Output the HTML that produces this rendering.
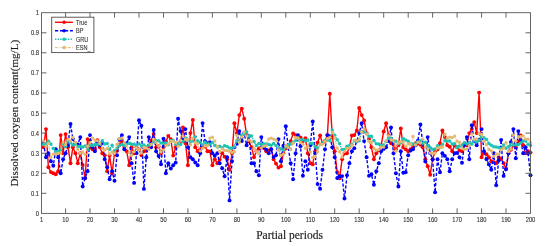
<!DOCTYPE html>
<html><head><meta charset="utf-8"><title>Dissolved oxygen content</title>
<style>html,body{margin:0;padding:0;background:#fff}body{width:550px;height:246px;position:relative;overflow:hidden}</style>
</head><body>
<svg width="550" height="246" viewBox="0 0 550 246" style="position:absolute;left:0;top:0">
<defs><filter id="soft" x="-2%" y="-10%" width="104%" height="120%"><feGaussianBlur stdDeviation="0.35"/></filter></defs>
<rect x="0" y="0" width="550" height="246" fill="#fff"/>
<g fill="none" stroke-linejoin="round" filter="url(#soft)">
<polyline points="43.5,147.2 46.0,129.1 48.4,167.2 50.9,172.1 53.3,173.3 55.8,174.3 58.2,171.3 60.7,135.1 63.1,153.2 65.6,134.1 68.0,147.2 70.5,163.2 72.9,147.2 75.4,153.2 77.8,163.2 80.3,153.2 82.7,165.0 85.1,178.3 87.6,139.1 90.0,147.2 92.5,149.2 94.9,149.2 97.4,140.3 99.8,147.2 102.3,153.2 104.7,155.2 107.2,171.3 109.6,155.2 112.1,173.3 114.5,153.2 117.0,150.7 119.4,145.2 121.9,141.1 124.3,147.0 126.7,151.2 129.2,165.2 131.6,147.2 134.1,153.2 136.5,147.2 139.0,149.4 141.4,155.2 143.9,151.2 146.3,150.7 148.8,147.2 151.2,140.4 153.7,134.1 156.1,147.2 158.6,146.2 161.0,153.2 163.5,147.2 165.9,141.5 168.3,135.9 170.8,139.1 173.2,155.6 175.7,147.2 178.1,143.6 180.6,141.1 183.0,127.5 185.5,143.2 187.9,165.2 190.4,133.1 192.8,119.9 195.3,147.2 197.7,151.2 200.2,149.3 202.6,147.2 205.0,146.4 207.5,151.2 209.9,151.4 212.4,165.2 214.8,159.2 217.3,163.2 219.7,159.6 222.2,153.2 224.6,156.7 227.1,159.2 229.5,169.8 232.0,153.2 234.4,123.3 236.9,133.1 239.3,115.1 241.8,108.6 244.2,118.7 246.6,135.1 249.1,141.5 251.5,147.2 254.0,157.2 256.4,151.2 258.9,148.5 261.3,147.2 263.8,148.1 266.2,151.2 268.7,150.4 271.1,149.2 273.6,159.2 276.0,163.6 278.5,167.6 280.9,166.2 283.4,153.2 285.8,148.4 288.2,147.2 290.7,141.1 293.1,133.5 295.6,135.1 298.0,138.1 300.5,137.5 302.9,141.1 305.4,138.1 307.8,153.2 310.3,163.2 312.7,164.2 315.2,151.2 317.6,142.6 320.1,135.5 322.5,143.2 325.0,141.1 327.4,135.1 329.8,93.8 332.3,137.1 334.7,151.2 337.2,172.3 339.6,178.3 342.1,159.2 344.5,153.5 347.0,153.2 349.4,147.2 351.9,135.5 354.3,135.1 356.8,130.5 359.2,108.0 361.7,115.1 364.1,120.5 366.6,133.1 369.0,138.9 371.4,147.2 373.9,159.2 376.3,153.2 378.8,150.4 381.2,145.2 383.7,131.5 386.1,123.3 388.6,135.1 391.0,143.2 393.5,144.9 395.9,149.2 398.4,145.2 400.8,128.5 403.3,147.2 405.7,149.2 408.2,151.2 410.6,149.3 413.0,147.2 415.5,143.1 417.9,143.2 420.4,144.8 422.8,147.2 425.3,159.2 427.7,166.3 430.2,174.7 432.6,159.2 435.1,151.2 437.5,149.3 440.0,143.2 442.4,130.5 444.9,137.1 447.3,145.2 449.7,146.7 452.2,151.2 454.6,145.4 457.1,147.2 459.5,150.5 462.0,151.2 464.4,143.8 466.9,145.2 469.3,133.1 471.8,128.9 474.2,122.1 476.7,133.1 479.1,92.6 481.6,157.2 484.0,153.2 486.5,154.2 488.9,157.2 491.3,161.2 493.8,162.1 496.2,163.2 498.7,157.2 501.1,159.0 503.6,163.2 506.0,168.6 508.5,153.2 510.9,149.7 513.4,145.2 515.8,147.2 518.3,142.3 520.7,135.5 523.2,145.2 525.6,153.2 528.1,151.2 530.5,152.6" stroke="#ff0000" stroke-width="1.4"/>
<g fill="#ff0000" stroke="none"><circle cx="43.5" cy="147.2" r="1.95"/><circle cx="46.0" cy="129.1" r="1.95"/><circle cx="48.4" cy="167.2" r="1.95"/><circle cx="50.9" cy="172.1" r="1.95"/><circle cx="53.3" cy="173.3" r="1.95"/><circle cx="55.8" cy="174.3" r="1.95"/><circle cx="58.2" cy="171.3" r="1.95"/><circle cx="60.7" cy="135.1" r="1.95"/><circle cx="63.1" cy="153.2" r="1.95"/><circle cx="65.6" cy="134.1" r="1.95"/><circle cx="68.0" cy="147.2" r="1.95"/><circle cx="70.5" cy="163.2" r="1.95"/><circle cx="72.9" cy="147.2" r="1.95"/><circle cx="75.4" cy="153.2" r="1.95"/><circle cx="77.8" cy="163.2" r="1.95"/><circle cx="80.3" cy="153.2" r="1.95"/><circle cx="82.7" cy="165.0" r="1.95"/><circle cx="85.1" cy="178.3" r="1.95"/><circle cx="87.6" cy="139.1" r="1.95"/><circle cx="90.0" cy="147.2" r="1.95"/><circle cx="92.5" cy="149.2" r="1.95"/><circle cx="94.9" cy="149.2" r="1.95"/><circle cx="97.4" cy="140.3" r="1.95"/><circle cx="99.8" cy="147.2" r="1.95"/><circle cx="102.3" cy="153.2" r="1.95"/><circle cx="104.7" cy="155.2" r="1.95"/><circle cx="107.2" cy="171.3" r="1.95"/><circle cx="109.6" cy="155.2" r="1.95"/><circle cx="112.1" cy="173.3" r="1.95"/><circle cx="114.5" cy="153.2" r="1.95"/><circle cx="117.0" cy="150.7" r="1.95"/><circle cx="119.4" cy="145.2" r="1.95"/><circle cx="121.9" cy="141.1" r="1.95"/><circle cx="124.3" cy="147.0" r="1.95"/><circle cx="126.7" cy="151.2" r="1.95"/><circle cx="129.2" cy="165.2" r="1.95"/><circle cx="131.6" cy="147.2" r="1.95"/><circle cx="134.1" cy="153.2" r="1.95"/><circle cx="136.5" cy="147.2" r="1.95"/><circle cx="139.0" cy="149.4" r="1.95"/><circle cx="141.4" cy="155.2" r="1.95"/><circle cx="143.9" cy="151.2" r="1.95"/><circle cx="146.3" cy="150.7" r="1.95"/><circle cx="148.8" cy="147.2" r="1.95"/><circle cx="151.2" cy="140.4" r="1.95"/><circle cx="153.7" cy="134.1" r="1.95"/><circle cx="156.1" cy="147.2" r="1.95"/><circle cx="158.6" cy="146.2" r="1.95"/><circle cx="161.0" cy="153.2" r="1.95"/><circle cx="163.5" cy="147.2" r="1.95"/><circle cx="165.9" cy="141.5" r="1.95"/><circle cx="168.3" cy="135.9" r="1.95"/><circle cx="170.8" cy="139.1" r="1.95"/><circle cx="173.2" cy="155.6" r="1.95"/><circle cx="175.7" cy="147.2" r="1.95"/><circle cx="178.1" cy="143.6" r="1.95"/><circle cx="180.6" cy="141.1" r="1.95"/><circle cx="183.0" cy="127.5" r="1.95"/><circle cx="185.5" cy="143.2" r="1.95"/><circle cx="187.9" cy="165.2" r="1.95"/><circle cx="190.4" cy="133.1" r="1.95"/><circle cx="192.8" cy="119.9" r="1.95"/><circle cx="195.3" cy="147.2" r="1.95"/><circle cx="197.7" cy="151.2" r="1.95"/><circle cx="200.2" cy="149.3" r="1.95"/><circle cx="202.6" cy="147.2" r="1.95"/><circle cx="205.0" cy="146.4" r="1.95"/><circle cx="207.5" cy="151.2" r="1.95"/><circle cx="209.9" cy="151.4" r="1.95"/><circle cx="212.4" cy="165.2" r="1.95"/><circle cx="214.8" cy="159.2" r="1.95"/><circle cx="217.3" cy="163.2" r="1.95"/><circle cx="219.7" cy="159.6" r="1.95"/><circle cx="222.2" cy="153.2" r="1.95"/><circle cx="224.6" cy="156.7" r="1.95"/><circle cx="227.1" cy="159.2" r="1.95"/><circle cx="229.5" cy="169.8" r="1.95"/><circle cx="232.0" cy="153.2" r="1.95"/><circle cx="234.4" cy="123.3" r="1.95"/><circle cx="236.9" cy="133.1" r="1.95"/><circle cx="239.3" cy="115.1" r="1.95"/><circle cx="241.8" cy="108.6" r="1.95"/><circle cx="244.2" cy="118.7" r="1.95"/><circle cx="246.6" cy="135.1" r="1.95"/><circle cx="249.1" cy="141.5" r="1.95"/><circle cx="251.5" cy="147.2" r="1.95"/><circle cx="254.0" cy="157.2" r="1.95"/><circle cx="256.4" cy="151.2" r="1.95"/><circle cx="258.9" cy="148.5" r="1.95"/><circle cx="261.3" cy="147.2" r="1.95"/><circle cx="263.8" cy="148.1" r="1.95"/><circle cx="266.2" cy="151.2" r="1.95"/><circle cx="268.7" cy="150.4" r="1.95"/><circle cx="271.1" cy="149.2" r="1.95"/><circle cx="273.6" cy="159.2" r="1.95"/><circle cx="276.0" cy="163.6" r="1.95"/><circle cx="278.5" cy="167.6" r="1.95"/><circle cx="280.9" cy="166.2" r="1.95"/><circle cx="283.4" cy="153.2" r="1.95"/><circle cx="285.8" cy="148.4" r="1.95"/><circle cx="288.2" cy="147.2" r="1.95"/><circle cx="290.7" cy="141.1" r="1.95"/><circle cx="293.1" cy="133.5" r="1.95"/><circle cx="295.6" cy="135.1" r="1.95"/><circle cx="298.0" cy="138.1" r="1.95"/><circle cx="300.5" cy="137.5" r="1.95"/><circle cx="302.9" cy="141.1" r="1.95"/><circle cx="305.4" cy="138.1" r="1.95"/><circle cx="307.8" cy="153.2" r="1.95"/><circle cx="310.3" cy="163.2" r="1.95"/><circle cx="312.7" cy="164.2" r="1.95"/><circle cx="315.2" cy="151.2" r="1.95"/><circle cx="317.6" cy="142.6" r="1.95"/><circle cx="320.1" cy="135.5" r="1.95"/><circle cx="322.5" cy="143.2" r="1.95"/><circle cx="325.0" cy="141.1" r="1.95"/><circle cx="327.4" cy="135.1" r="1.95"/><circle cx="329.8" cy="93.8" r="1.95"/><circle cx="332.3" cy="137.1" r="1.95"/><circle cx="334.7" cy="151.2" r="1.95"/><circle cx="337.2" cy="172.3" r="1.95"/><circle cx="339.6" cy="178.3" r="1.95"/><circle cx="342.1" cy="159.2" r="1.95"/><circle cx="344.5" cy="153.5" r="1.95"/><circle cx="347.0" cy="153.2" r="1.95"/><circle cx="349.4" cy="147.2" r="1.95"/><circle cx="351.9" cy="135.5" r="1.95"/><circle cx="354.3" cy="135.1" r="1.95"/><circle cx="356.8" cy="130.5" r="1.95"/><circle cx="359.2" cy="108.0" r="1.95"/><circle cx="361.7" cy="115.1" r="1.95"/><circle cx="364.1" cy="120.5" r="1.95"/><circle cx="366.6" cy="133.1" r="1.95"/><circle cx="369.0" cy="138.9" r="1.95"/><circle cx="371.4" cy="147.2" r="1.95"/><circle cx="373.9" cy="159.2" r="1.95"/><circle cx="376.3" cy="153.2" r="1.95"/><circle cx="378.8" cy="150.4" r="1.95"/><circle cx="381.2" cy="145.2" r="1.95"/><circle cx="383.7" cy="131.5" r="1.95"/><circle cx="386.1" cy="123.3" r="1.95"/><circle cx="388.6" cy="135.1" r="1.95"/><circle cx="391.0" cy="143.2" r="1.95"/><circle cx="393.5" cy="144.9" r="1.95"/><circle cx="395.9" cy="149.2" r="1.95"/><circle cx="398.4" cy="145.2" r="1.95"/><circle cx="400.8" cy="128.5" r="1.95"/><circle cx="403.3" cy="147.2" r="1.95"/><circle cx="405.7" cy="149.2" r="1.95"/><circle cx="408.2" cy="151.2" r="1.95"/><circle cx="410.6" cy="149.3" r="1.95"/><circle cx="413.0" cy="147.2" r="1.95"/><circle cx="415.5" cy="143.1" r="1.95"/><circle cx="417.9" cy="143.2" r="1.95"/><circle cx="420.4" cy="144.8" r="1.95"/><circle cx="422.8" cy="147.2" r="1.95"/><circle cx="425.3" cy="159.2" r="1.95"/><circle cx="427.7" cy="166.3" r="1.95"/><circle cx="430.2" cy="174.7" r="1.95"/><circle cx="432.6" cy="159.2" r="1.95"/><circle cx="435.1" cy="151.2" r="1.95"/><circle cx="437.5" cy="149.3" r="1.95"/><circle cx="440.0" cy="143.2" r="1.95"/><circle cx="442.4" cy="130.5" r="1.95"/><circle cx="444.9" cy="137.1" r="1.95"/><circle cx="447.3" cy="145.2" r="1.95"/><circle cx="449.7" cy="146.7" r="1.95"/><circle cx="452.2" cy="151.2" r="1.95"/><circle cx="454.6" cy="145.4" r="1.95"/><circle cx="457.1" cy="147.2" r="1.95"/><circle cx="459.5" cy="150.5" r="1.95"/><circle cx="462.0" cy="151.2" r="1.95"/><circle cx="464.4" cy="143.8" r="1.95"/><circle cx="466.9" cy="145.2" r="1.95"/><circle cx="469.3" cy="133.1" r="1.95"/><circle cx="471.8" cy="128.9" r="1.95"/><circle cx="474.2" cy="122.1" r="1.95"/><circle cx="476.7" cy="133.1" r="1.95"/><circle cx="479.1" cy="92.6" r="1.95"/><circle cx="481.6" cy="157.2" r="1.95"/><circle cx="484.0" cy="153.2" r="1.95"/><circle cx="486.5" cy="154.2" r="1.95"/><circle cx="488.9" cy="157.2" r="1.95"/><circle cx="491.3" cy="161.2" r="1.95"/><circle cx="493.8" cy="162.1" r="1.95"/><circle cx="496.2" cy="163.2" r="1.95"/><circle cx="498.7" cy="157.2" r="1.95"/><circle cx="501.1" cy="159.0" r="1.95"/><circle cx="503.6" cy="163.2" r="1.95"/><circle cx="506.0" cy="168.6" r="1.95"/><circle cx="508.5" cy="153.2" r="1.95"/><circle cx="510.9" cy="149.7" r="1.95"/><circle cx="513.4" cy="145.2" r="1.95"/><circle cx="515.8" cy="147.2" r="1.95"/><circle cx="518.3" cy="142.3" r="1.95"/><circle cx="520.7" cy="135.5" r="1.95"/><circle cx="523.2" cy="145.2" r="1.95"/><circle cx="525.6" cy="153.2" r="1.95"/><circle cx="528.1" cy="151.2" r="1.95"/><circle cx="530.5" cy="152.6" r="1.95"/></g>
<polyline points="43.5,143.2 46.0,157.2 48.4,153.2 50.9,161.2 53.3,165.8 55.8,149.2 58.2,157.2 60.7,173.3 63.1,159.2 65.6,153.2 68.0,145.2 70.5,123.9 72.9,139.1 75.4,143.2 77.8,144.5 80.3,137.1 82.7,186.5 85.1,178.1 87.6,171.3 90.0,135.1 92.5,147.2 94.9,151.2 97.4,142.2 99.8,145.2 102.3,142.6 104.7,159.2 107.2,167.2 109.6,179.3 112.1,171.3 114.5,180.7 117.0,155.2 119.4,139.5 121.9,135.1 124.3,149.2 126.7,143.3 129.2,137.1 131.6,163.2 134.1,182.9 136.5,153.2 139.0,120.3 141.4,125.7 143.9,188.9 146.3,157.2 148.8,137.1 151.2,147.2 153.7,129.9 156.1,151.2 158.6,156.0 161.0,164.2 163.5,138.7 165.9,173.3 168.3,163.2 170.8,168.6 173.2,165.2 175.7,162.6 178.1,118.7 180.6,131.1 183.0,141.1 185.5,129.1 187.9,147.2 190.4,157.2 192.8,159.2 195.3,162.5 197.7,165.2 200.2,153.2 202.6,123.1 205.0,141.1 207.5,143.2 209.9,142.2 212.4,153.2 214.8,155.7 217.3,153.2 219.7,163.2 222.2,168.2 224.6,176.3 227.1,157.2 229.5,200.4 232.0,161.2 234.4,147.2 236.9,143.8 239.3,131.1 241.8,141.1 244.2,133.1 246.6,145.2 249.1,136.1 251.5,163.2 254.0,163.2 256.4,171.3 258.9,175.3 261.3,137.1 263.8,147.2 266.2,149.6 268.7,153.2 271.1,149.2 273.6,157.1 276.0,155.2 278.5,139.1 280.9,161.2 283.4,145.8 285.8,126.3 288.2,147.2 290.7,163.2 293.1,179.3 295.6,153.2 298.0,135.1 300.5,146.2 302.9,175.7 305.4,161.2 307.8,169.8 310.3,145.2 312.7,121.5 315.2,153.2 317.6,184.1 320.1,188.7 322.5,169.8 325.0,149.2 327.4,135.1 329.8,136.1 332.3,147.2 334.7,157.2 337.2,178.1 339.6,176.2 342.1,176.1 344.5,198.5 347.0,175.3 349.4,163.2 351.9,151.2 354.3,148.3 356.8,141.1 359.2,133.1 361.7,123.3 364.1,141.1 366.6,157.2 369.0,175.7 371.4,174.3 373.9,184.7 376.3,171.3 378.8,163.2 381.2,151.2 383.7,148.9 386.1,147.2 388.6,141.1 391.0,127.5 393.5,153.2 395.9,173.3 398.4,186.5 400.8,151.2 403.3,172.7 405.7,172.3 408.2,155.2 410.6,150.6 413.0,149.2 415.5,145.2 417.9,140.7 420.4,124.5 422.8,143.2 425.3,161.6 427.7,137.1 430.2,153.2 432.6,159.2 435.1,192.3 437.5,159.2 440.0,172.3 442.4,153.2 444.9,155.9 447.3,159.2 449.7,171.3 452.2,159.2 454.6,153.2 457.1,152.9 459.5,157.2 462.0,162.8 464.4,145.1 466.9,137.1 469.3,159.2 471.8,125.3 474.2,141.1 476.7,145.2 479.1,139.9 481.6,129.1 484.0,151.2 486.5,159.2 488.9,164.4 491.3,169.8 493.8,153.2 496.2,185.3 498.7,160.6 501.1,139.9 503.6,175.9 506.0,169.2 508.5,153.2 510.9,142.1 513.4,129.1 515.8,158.2 518.3,131.1 520.7,141.1 523.2,153.2 525.6,147.2 528.1,153.2 530.5,175.3" stroke="#0000ff" stroke-width="1.4" stroke-dasharray="3.2 1.8"/>
<g fill="#0000ff" stroke="none"><circle cx="43.5" cy="143.2" r="1.95"/><circle cx="46.0" cy="157.2" r="1.95"/><circle cx="48.4" cy="153.2" r="1.95"/><circle cx="50.9" cy="161.2" r="1.95"/><circle cx="53.3" cy="165.8" r="1.95"/><circle cx="55.8" cy="149.2" r="1.95"/><circle cx="58.2" cy="157.2" r="1.95"/><circle cx="60.7" cy="173.3" r="1.95"/><circle cx="63.1" cy="159.2" r="1.95"/><circle cx="65.6" cy="153.2" r="1.95"/><circle cx="68.0" cy="145.2" r="1.95"/><circle cx="70.5" cy="123.9" r="1.95"/><circle cx="72.9" cy="139.1" r="1.95"/><circle cx="75.4" cy="143.2" r="1.95"/><circle cx="77.8" cy="144.5" r="1.95"/><circle cx="80.3" cy="137.1" r="1.95"/><circle cx="82.7" cy="186.5" r="1.95"/><circle cx="85.1" cy="178.1" r="1.95"/><circle cx="87.6" cy="171.3" r="1.95"/><circle cx="90.0" cy="135.1" r="1.95"/><circle cx="92.5" cy="147.2" r="1.95"/><circle cx="94.9" cy="151.2" r="1.95"/><circle cx="97.4" cy="142.2" r="1.95"/><circle cx="99.8" cy="145.2" r="1.95"/><circle cx="102.3" cy="142.6" r="1.95"/><circle cx="104.7" cy="159.2" r="1.95"/><circle cx="107.2" cy="167.2" r="1.95"/><circle cx="109.6" cy="179.3" r="1.95"/><circle cx="112.1" cy="171.3" r="1.95"/><circle cx="114.5" cy="180.7" r="1.95"/><circle cx="117.0" cy="155.2" r="1.95"/><circle cx="119.4" cy="139.5" r="1.95"/><circle cx="121.9" cy="135.1" r="1.95"/><circle cx="124.3" cy="149.2" r="1.95"/><circle cx="126.7" cy="143.3" r="1.95"/><circle cx="129.2" cy="137.1" r="1.95"/><circle cx="131.6" cy="163.2" r="1.95"/><circle cx="134.1" cy="182.9" r="1.95"/><circle cx="136.5" cy="153.2" r="1.95"/><circle cx="139.0" cy="120.3" r="1.95"/><circle cx="141.4" cy="125.7" r="1.95"/><circle cx="143.9" cy="188.9" r="1.95"/><circle cx="146.3" cy="157.2" r="1.95"/><circle cx="148.8" cy="137.1" r="1.95"/><circle cx="151.2" cy="147.2" r="1.95"/><circle cx="153.7" cy="129.9" r="1.95"/><circle cx="156.1" cy="151.2" r="1.95"/><circle cx="158.6" cy="156.0" r="1.95"/><circle cx="161.0" cy="164.2" r="1.95"/><circle cx="163.5" cy="138.7" r="1.95"/><circle cx="165.9" cy="173.3" r="1.95"/><circle cx="168.3" cy="163.2" r="1.95"/><circle cx="170.8" cy="168.6" r="1.95"/><circle cx="173.2" cy="165.2" r="1.95"/><circle cx="175.7" cy="162.6" r="1.95"/><circle cx="178.1" cy="118.7" r="1.95"/><circle cx="180.6" cy="131.1" r="1.95"/><circle cx="183.0" cy="141.1" r="1.95"/><circle cx="185.5" cy="129.1" r="1.95"/><circle cx="187.9" cy="147.2" r="1.95"/><circle cx="190.4" cy="157.2" r="1.95"/><circle cx="192.8" cy="159.2" r="1.95"/><circle cx="195.3" cy="162.5" r="1.95"/><circle cx="197.7" cy="165.2" r="1.95"/><circle cx="200.2" cy="153.2" r="1.95"/><circle cx="202.6" cy="123.1" r="1.95"/><circle cx="205.0" cy="141.1" r="1.95"/><circle cx="207.5" cy="143.2" r="1.95"/><circle cx="209.9" cy="142.2" r="1.95"/><circle cx="212.4" cy="153.2" r="1.95"/><circle cx="214.8" cy="155.7" r="1.95"/><circle cx="217.3" cy="153.2" r="1.95"/><circle cx="219.7" cy="163.2" r="1.95"/><circle cx="222.2" cy="168.2" r="1.95"/><circle cx="224.6" cy="176.3" r="1.95"/><circle cx="227.1" cy="157.2" r="1.95"/><circle cx="229.5" cy="200.4" r="1.95"/><circle cx="232.0" cy="161.2" r="1.95"/><circle cx="234.4" cy="147.2" r="1.95"/><circle cx="236.9" cy="143.8" r="1.95"/><circle cx="239.3" cy="131.1" r="1.95"/><circle cx="241.8" cy="141.1" r="1.95"/><circle cx="244.2" cy="133.1" r="1.95"/><circle cx="246.6" cy="145.2" r="1.95"/><circle cx="249.1" cy="136.1" r="1.95"/><circle cx="251.5" cy="163.2" r="1.95"/><circle cx="254.0" cy="163.2" r="1.95"/><circle cx="256.4" cy="171.3" r="1.95"/><circle cx="258.9" cy="175.3" r="1.95"/><circle cx="261.3" cy="137.1" r="1.95"/><circle cx="263.8" cy="147.2" r="1.95"/><circle cx="266.2" cy="149.6" r="1.95"/><circle cx="268.7" cy="153.2" r="1.95"/><circle cx="271.1" cy="149.2" r="1.95"/><circle cx="273.6" cy="157.1" r="1.95"/><circle cx="276.0" cy="155.2" r="1.95"/><circle cx="278.5" cy="139.1" r="1.95"/><circle cx="280.9" cy="161.2" r="1.95"/><circle cx="283.4" cy="145.8" r="1.95"/><circle cx="285.8" cy="126.3" r="1.95"/><circle cx="288.2" cy="147.2" r="1.95"/><circle cx="290.7" cy="163.2" r="1.95"/><circle cx="293.1" cy="179.3" r="1.95"/><circle cx="295.6" cy="153.2" r="1.95"/><circle cx="298.0" cy="135.1" r="1.95"/><circle cx="300.5" cy="146.2" r="1.95"/><circle cx="302.9" cy="175.7" r="1.95"/><circle cx="305.4" cy="161.2" r="1.95"/><circle cx="307.8" cy="169.8" r="1.95"/><circle cx="310.3" cy="145.2" r="1.95"/><circle cx="312.7" cy="121.5" r="1.95"/><circle cx="315.2" cy="153.2" r="1.95"/><circle cx="317.6" cy="184.1" r="1.95"/><circle cx="320.1" cy="188.7" r="1.95"/><circle cx="322.5" cy="169.8" r="1.95"/><circle cx="325.0" cy="149.2" r="1.95"/><circle cx="327.4" cy="135.1" r="1.95"/><circle cx="329.8" cy="136.1" r="1.95"/><circle cx="332.3" cy="147.2" r="1.95"/><circle cx="334.7" cy="157.2" r="1.95"/><circle cx="337.2" cy="178.1" r="1.95"/><circle cx="339.6" cy="176.2" r="1.95"/><circle cx="342.1" cy="176.1" r="1.95"/><circle cx="344.5" cy="198.5" r="1.95"/><circle cx="347.0" cy="175.3" r="1.95"/><circle cx="349.4" cy="163.2" r="1.95"/><circle cx="351.9" cy="151.2" r="1.95"/><circle cx="354.3" cy="148.3" r="1.95"/><circle cx="356.8" cy="141.1" r="1.95"/><circle cx="359.2" cy="133.1" r="1.95"/><circle cx="361.7" cy="123.3" r="1.95"/><circle cx="364.1" cy="141.1" r="1.95"/><circle cx="366.6" cy="157.2" r="1.95"/><circle cx="369.0" cy="175.7" r="1.95"/><circle cx="371.4" cy="174.3" r="1.95"/><circle cx="373.9" cy="184.7" r="1.95"/><circle cx="376.3" cy="171.3" r="1.95"/><circle cx="378.8" cy="163.2" r="1.95"/><circle cx="381.2" cy="151.2" r="1.95"/><circle cx="383.7" cy="148.9" r="1.95"/><circle cx="386.1" cy="147.2" r="1.95"/><circle cx="388.6" cy="141.1" r="1.95"/><circle cx="391.0" cy="127.5" r="1.95"/><circle cx="393.5" cy="153.2" r="1.95"/><circle cx="395.9" cy="173.3" r="1.95"/><circle cx="398.4" cy="186.5" r="1.95"/><circle cx="400.8" cy="151.2" r="1.95"/><circle cx="403.3" cy="172.7" r="1.95"/><circle cx="405.7" cy="172.3" r="1.95"/><circle cx="408.2" cy="155.2" r="1.95"/><circle cx="410.6" cy="150.6" r="1.95"/><circle cx="413.0" cy="149.2" r="1.95"/><circle cx="415.5" cy="145.2" r="1.95"/><circle cx="417.9" cy="140.7" r="1.95"/><circle cx="420.4" cy="124.5" r="1.95"/><circle cx="422.8" cy="143.2" r="1.95"/><circle cx="425.3" cy="161.6" r="1.95"/><circle cx="427.7" cy="137.1" r="1.95"/><circle cx="430.2" cy="153.2" r="1.95"/><circle cx="432.6" cy="159.2" r="1.95"/><circle cx="435.1" cy="192.3" r="1.95"/><circle cx="437.5" cy="159.2" r="1.95"/><circle cx="440.0" cy="172.3" r="1.95"/><circle cx="442.4" cy="153.2" r="1.95"/><circle cx="444.9" cy="155.9" r="1.95"/><circle cx="447.3" cy="159.2" r="1.95"/><circle cx="449.7" cy="171.3" r="1.95"/><circle cx="452.2" cy="159.2" r="1.95"/><circle cx="454.6" cy="153.2" r="1.95"/><circle cx="457.1" cy="152.9" r="1.95"/><circle cx="459.5" cy="157.2" r="1.95"/><circle cx="462.0" cy="162.8" r="1.95"/><circle cx="464.4" cy="145.1" r="1.95"/><circle cx="466.9" cy="137.1" r="1.95"/><circle cx="469.3" cy="159.2" r="1.95"/><circle cx="471.8" cy="125.3" r="1.95"/><circle cx="474.2" cy="141.1" r="1.95"/><circle cx="476.7" cy="145.2" r="1.95"/><circle cx="479.1" cy="139.9" r="1.95"/><circle cx="481.6" cy="129.1" r="1.95"/><circle cx="484.0" cy="151.2" r="1.95"/><circle cx="486.5" cy="159.2" r="1.95"/><circle cx="488.9" cy="164.4" r="1.95"/><circle cx="491.3" cy="169.8" r="1.95"/><circle cx="493.8" cy="153.2" r="1.95"/><circle cx="496.2" cy="185.3" r="1.95"/><circle cx="498.7" cy="160.6" r="1.95"/><circle cx="501.1" cy="139.9" r="1.95"/><circle cx="503.6" cy="175.9" r="1.95"/><circle cx="506.0" cy="169.2" r="1.95"/><circle cx="508.5" cy="153.2" r="1.95"/><circle cx="510.9" cy="142.1" r="1.95"/><circle cx="513.4" cy="129.1" r="1.95"/><circle cx="515.8" cy="158.2" r="1.95"/><circle cx="518.3" cy="131.1" r="1.95"/><circle cx="520.7" cy="141.1" r="1.95"/><circle cx="523.2" cy="153.2" r="1.95"/><circle cx="525.6" cy="147.2" r="1.95"/><circle cx="528.1" cy="153.2" r="1.95"/><circle cx="530.5" cy="175.3" r="1.95"/></g>
<polyline points="43.5,144.4 46.0,143.5 48.4,141.2 50.9,144.1 53.3,148.4 55.8,151.4 58.2,151.3 60.7,150.0 63.1,144.3 65.6,146.4 68.0,141.0 70.5,142.8 72.9,145.1 75.4,144.3 77.8,146.4 80.3,146.4 82.7,146.9 85.1,145.9 87.6,149.4 90.0,145.2 92.5,145.6 94.9,144.5 97.4,144.4 99.8,144.0 102.3,140.8 104.7,144.0 107.2,143.5 109.6,149.3 112.1,145.3 114.5,150.7 117.0,148.2 119.4,145.6 121.9,144.5 124.3,145.5 126.7,144.5 129.2,143.3 131.6,144.3 134.1,144.2 136.5,145.7 139.0,143.7 141.4,145.9 143.9,144.9 146.3,146.8 148.8,145.1 151.2,144.6 153.7,141.8 156.1,140.8 158.6,140.8 161.0,142.9 163.5,143.3 165.9,143.1 168.3,144.7 170.8,140.8 173.2,140.5 175.7,144.3 178.1,143.4 180.6,144.5 183.0,141.4 185.5,138.2 187.9,140.1 190.4,142.0 192.8,140.9 195.3,136.7 197.7,141.0 200.2,142.4 202.6,144.7 205.0,142.3 207.5,144.3 209.9,144.2 212.4,142.6 214.8,145.6 217.3,146.9 219.7,146.3 222.2,147.7 224.6,145.8 227.1,146.6 229.5,148.0 232.0,148.2 234.4,146.2 236.9,140.8 239.3,140.3 241.8,135.3 244.2,133.7 246.6,132.1 249.1,136.2 251.5,135.9 254.0,141.6 256.4,145.6 258.9,143.5 261.3,144.6 263.8,144.0 266.2,143.9 268.7,144.4 271.1,145.2 273.6,143.6 276.0,145.4 278.5,147.9 280.9,148.7 283.4,150.0 285.8,147.0 288.2,145.0 290.7,144.0 293.1,142.3 295.6,140.6 298.0,137.8 300.5,140.0 302.9,139.7 305.4,140.8 307.8,140.1 310.3,143.2 312.7,143.5 315.2,146.8 317.6,148.0 320.1,144.5 322.5,143.0 325.0,140.8 327.4,139.9 329.8,140.6 332.3,130.0 334.7,135.3 337.2,139.7 339.6,143.7 342.1,149.5 344.5,149.6 347.0,146.2 349.4,145.8 351.9,144.3 354.3,140.8 356.8,141.0 359.2,140.7 361.7,131.7 364.1,132.0 366.6,133.4 369.0,136.2 371.4,136.3 373.9,140.5 376.3,143.7 378.8,143.9 381.2,145.6 383.7,145.1 386.1,141.4 388.6,138.3 391.0,138.2 393.5,140.9 395.9,141.3 398.4,143.5 400.8,143.0 403.3,138.7 405.7,140.0 408.2,141.3 410.6,144.0 413.0,144.1 415.5,144.6 417.9,141.9 420.4,140.8 422.8,143.3 425.3,142.3 427.7,145.6 430.2,147.5 432.6,149.3 435.1,148.9 437.5,145.8 440.0,147.3 442.4,144.6 444.9,140.4 447.3,141.0 449.7,141.0 452.2,144.1 454.6,143.7 457.1,147.6 459.5,146.1 462.0,145.0 464.4,142.7 466.9,144.0 469.3,142.8 471.8,144.1 474.2,140.8 476.7,141.8 479.1,140.2 481.6,136.5 484.0,137.7 486.5,139.6 488.9,143.5 491.3,145.2 493.8,146.7 496.2,147.1 498.7,147.6 501.1,148.3 503.6,145.0 506.0,148.3 508.5,146.6 510.9,144.4 513.4,144.9 515.8,144.7 518.3,144.4 520.7,142.8 523.2,141.1 525.6,140.9 528.1,144.3 530.5,145.5" stroke="#1fc2b4" stroke-width="1.4" stroke-dasharray="1.4 1.2"/>
<g fill="#1fc2b4" stroke="none"><circle cx="43.5" cy="144.4" r="1.75"/><circle cx="46.0" cy="143.5" r="1.75"/><circle cx="48.4" cy="141.2" r="1.75"/><circle cx="50.9" cy="144.1" r="1.75"/><circle cx="53.3" cy="148.4" r="1.75"/><circle cx="55.8" cy="151.4" r="1.75"/><circle cx="58.2" cy="151.3" r="1.75"/><circle cx="60.7" cy="150.0" r="1.75"/><circle cx="63.1" cy="144.3" r="1.75"/><circle cx="65.6" cy="146.4" r="1.75"/><circle cx="68.0" cy="141.0" r="1.75"/><circle cx="70.5" cy="142.8" r="1.75"/><circle cx="72.9" cy="145.1" r="1.75"/><circle cx="75.4" cy="144.3" r="1.75"/><circle cx="77.8" cy="146.4" r="1.75"/><circle cx="80.3" cy="146.4" r="1.75"/><circle cx="82.7" cy="146.9" r="1.75"/><circle cx="85.1" cy="145.9" r="1.75"/><circle cx="87.6" cy="149.4" r="1.75"/><circle cx="90.0" cy="145.2" r="1.75"/><circle cx="92.5" cy="145.6" r="1.75"/><circle cx="94.9" cy="144.5" r="1.75"/><circle cx="97.4" cy="144.4" r="1.75"/><circle cx="99.8" cy="144.0" r="1.75"/><circle cx="102.3" cy="140.8" r="1.75"/><circle cx="104.7" cy="144.0" r="1.75"/><circle cx="107.2" cy="143.5" r="1.75"/><circle cx="109.6" cy="149.3" r="1.75"/><circle cx="112.1" cy="145.3" r="1.75"/><circle cx="114.5" cy="150.7" r="1.75"/><circle cx="117.0" cy="148.2" r="1.75"/><circle cx="119.4" cy="145.6" r="1.75"/><circle cx="121.9" cy="144.5" r="1.75"/><circle cx="124.3" cy="145.5" r="1.75"/><circle cx="126.7" cy="144.5" r="1.75"/><circle cx="129.2" cy="143.3" r="1.75"/><circle cx="131.6" cy="144.3" r="1.75"/><circle cx="134.1" cy="144.2" r="1.75"/><circle cx="136.5" cy="145.7" r="1.75"/><circle cx="139.0" cy="143.7" r="1.75"/><circle cx="141.4" cy="145.9" r="1.75"/><circle cx="143.9" cy="144.9" r="1.75"/><circle cx="146.3" cy="146.8" r="1.75"/><circle cx="148.8" cy="145.1" r="1.75"/><circle cx="151.2" cy="144.6" r="1.75"/><circle cx="153.7" cy="141.8" r="1.75"/><circle cx="156.1" cy="140.8" r="1.75"/><circle cx="158.6" cy="140.8" r="1.75"/><circle cx="161.0" cy="142.9" r="1.75"/><circle cx="163.5" cy="143.3" r="1.75"/><circle cx="165.9" cy="143.1" r="1.75"/><circle cx="168.3" cy="144.7" r="1.75"/><circle cx="170.8" cy="140.8" r="1.75"/><circle cx="173.2" cy="140.5" r="1.75"/><circle cx="175.7" cy="144.3" r="1.75"/><circle cx="178.1" cy="143.4" r="1.75"/><circle cx="180.6" cy="144.5" r="1.75"/><circle cx="183.0" cy="141.4" r="1.75"/><circle cx="185.5" cy="138.2" r="1.75"/><circle cx="187.9" cy="140.1" r="1.75"/><circle cx="190.4" cy="142.0" r="1.75"/><circle cx="192.8" cy="140.9" r="1.75"/><circle cx="195.3" cy="136.7" r="1.75"/><circle cx="197.7" cy="141.0" r="1.75"/><circle cx="200.2" cy="142.4" r="1.75"/><circle cx="202.6" cy="144.7" r="1.75"/><circle cx="205.0" cy="142.3" r="1.75"/><circle cx="207.5" cy="144.3" r="1.75"/><circle cx="209.9" cy="144.2" r="1.75"/><circle cx="212.4" cy="142.6" r="1.75"/><circle cx="214.8" cy="145.6" r="1.75"/><circle cx="217.3" cy="146.9" r="1.75"/><circle cx="219.7" cy="146.3" r="1.75"/><circle cx="222.2" cy="147.7" r="1.75"/><circle cx="224.6" cy="145.8" r="1.75"/><circle cx="227.1" cy="146.6" r="1.75"/><circle cx="229.5" cy="148.0" r="1.75"/><circle cx="232.0" cy="148.2" r="1.75"/><circle cx="234.4" cy="146.2" r="1.75"/><circle cx="236.9" cy="140.8" r="1.75"/><circle cx="239.3" cy="140.3" r="1.75"/><circle cx="241.8" cy="135.3" r="1.75"/><circle cx="244.2" cy="133.7" r="1.75"/><circle cx="246.6" cy="132.1" r="1.75"/><circle cx="249.1" cy="136.2" r="1.75"/><circle cx="251.5" cy="135.9" r="1.75"/><circle cx="254.0" cy="141.6" r="1.75"/><circle cx="256.4" cy="145.6" r="1.75"/><circle cx="258.9" cy="143.5" r="1.75"/><circle cx="261.3" cy="144.6" r="1.75"/><circle cx="263.8" cy="144.0" r="1.75"/><circle cx="266.2" cy="143.9" r="1.75"/><circle cx="268.7" cy="144.4" r="1.75"/><circle cx="271.1" cy="145.2" r="1.75"/><circle cx="273.6" cy="143.6" r="1.75"/><circle cx="276.0" cy="145.4" r="1.75"/><circle cx="278.5" cy="147.9" r="1.75"/><circle cx="280.9" cy="148.7" r="1.75"/><circle cx="283.4" cy="150.0" r="1.75"/><circle cx="285.8" cy="147.0" r="1.75"/><circle cx="288.2" cy="145.0" r="1.75"/><circle cx="290.7" cy="144.0" r="1.75"/><circle cx="293.1" cy="142.3" r="1.75"/><circle cx="295.6" cy="140.6" r="1.75"/><circle cx="298.0" cy="137.8" r="1.75"/><circle cx="300.5" cy="140.0" r="1.75"/><circle cx="302.9" cy="139.7" r="1.75"/><circle cx="305.4" cy="140.8" r="1.75"/><circle cx="307.8" cy="140.1" r="1.75"/><circle cx="310.3" cy="143.2" r="1.75"/><circle cx="312.7" cy="143.5" r="1.75"/><circle cx="315.2" cy="146.8" r="1.75"/><circle cx="317.6" cy="148.0" r="1.75"/><circle cx="320.1" cy="144.5" r="1.75"/><circle cx="322.5" cy="143.0" r="1.75"/><circle cx="325.0" cy="140.8" r="1.75"/><circle cx="327.4" cy="139.9" r="1.75"/><circle cx="329.8" cy="140.6" r="1.75"/><circle cx="332.3" cy="130.0" r="1.75"/><circle cx="334.7" cy="135.3" r="1.75"/><circle cx="337.2" cy="139.7" r="1.75"/><circle cx="339.6" cy="143.7" r="1.75"/><circle cx="342.1" cy="149.5" r="1.75"/><circle cx="344.5" cy="149.6" r="1.75"/><circle cx="347.0" cy="146.2" r="1.75"/><circle cx="349.4" cy="145.8" r="1.75"/><circle cx="351.9" cy="144.3" r="1.75"/><circle cx="354.3" cy="140.8" r="1.75"/><circle cx="356.8" cy="141.0" r="1.75"/><circle cx="359.2" cy="140.7" r="1.75"/><circle cx="361.7" cy="131.7" r="1.75"/><circle cx="364.1" cy="132.0" r="1.75"/><circle cx="366.6" cy="133.4" r="1.75"/><circle cx="369.0" cy="136.2" r="1.75"/><circle cx="371.4" cy="136.3" r="1.75"/><circle cx="373.9" cy="140.5" r="1.75"/><circle cx="376.3" cy="143.7" r="1.75"/><circle cx="378.8" cy="143.9" r="1.75"/><circle cx="381.2" cy="145.6" r="1.75"/><circle cx="383.7" cy="145.1" r="1.75"/><circle cx="386.1" cy="141.4" r="1.75"/><circle cx="388.6" cy="138.3" r="1.75"/><circle cx="391.0" cy="138.2" r="1.75"/><circle cx="393.5" cy="140.9" r="1.75"/><circle cx="395.9" cy="141.3" r="1.75"/><circle cx="398.4" cy="143.5" r="1.75"/><circle cx="400.8" cy="143.0" r="1.75"/><circle cx="403.3" cy="138.7" r="1.75"/><circle cx="405.7" cy="140.0" r="1.75"/><circle cx="408.2" cy="141.3" r="1.75"/><circle cx="410.6" cy="144.0" r="1.75"/><circle cx="413.0" cy="144.1" r="1.75"/><circle cx="415.5" cy="144.6" r="1.75"/><circle cx="417.9" cy="141.9" r="1.75"/><circle cx="420.4" cy="140.8" r="1.75"/><circle cx="422.8" cy="143.3" r="1.75"/><circle cx="425.3" cy="142.3" r="1.75"/><circle cx="427.7" cy="145.6" r="1.75"/><circle cx="430.2" cy="147.5" r="1.75"/><circle cx="432.6" cy="149.3" r="1.75"/><circle cx="435.1" cy="148.9" r="1.75"/><circle cx="437.5" cy="145.8" r="1.75"/><circle cx="440.0" cy="147.3" r="1.75"/><circle cx="442.4" cy="144.6" r="1.75"/><circle cx="444.9" cy="140.4" r="1.75"/><circle cx="447.3" cy="141.0" r="1.75"/><circle cx="449.7" cy="141.0" r="1.75"/><circle cx="452.2" cy="144.1" r="1.75"/><circle cx="454.6" cy="143.7" r="1.75"/><circle cx="457.1" cy="147.6" r="1.75"/><circle cx="459.5" cy="146.1" r="1.75"/><circle cx="462.0" cy="145.0" r="1.75"/><circle cx="464.4" cy="142.7" r="1.75"/><circle cx="466.9" cy="144.0" r="1.75"/><circle cx="469.3" cy="142.8" r="1.75"/><circle cx="471.8" cy="144.1" r="1.75"/><circle cx="474.2" cy="140.8" r="1.75"/><circle cx="476.7" cy="141.8" r="1.75"/><circle cx="479.1" cy="140.2" r="1.75"/><circle cx="481.6" cy="136.5" r="1.75"/><circle cx="484.0" cy="137.7" r="1.75"/><circle cx="486.5" cy="139.6" r="1.75"/><circle cx="488.9" cy="143.5" r="1.75"/><circle cx="491.3" cy="145.2" r="1.75"/><circle cx="493.8" cy="146.7" r="1.75"/><circle cx="496.2" cy="147.1" r="1.75"/><circle cx="498.7" cy="147.6" r="1.75"/><circle cx="501.1" cy="148.3" r="1.75"/><circle cx="503.6" cy="145.0" r="1.75"/><circle cx="506.0" cy="148.3" r="1.75"/><circle cx="508.5" cy="146.6" r="1.75"/><circle cx="510.9" cy="144.4" r="1.75"/><circle cx="513.4" cy="144.9" r="1.75"/><circle cx="515.8" cy="144.7" r="1.75"/><circle cx="518.3" cy="144.4" r="1.75"/><circle cx="520.7" cy="142.8" r="1.75"/><circle cx="523.2" cy="141.1" r="1.75"/><circle cx="525.6" cy="140.9" r="1.75"/><circle cx="528.1" cy="144.3" r="1.75"/><circle cx="530.5" cy="145.5" r="1.75"/></g>
<polyline points="43.5,140.9 46.0,146.2 48.4,143.3 50.9,157.2 53.3,154.1 55.8,153.9 58.2,153.1 60.7,153.1 63.1,142.1 65.6,144.7 68.0,139.5 70.5,141.1 72.9,137.5 75.4,142.3 77.8,149.5 80.3,153.3 82.7,151.9 85.1,154.2 87.6,146.3 90.0,142.7 92.5,138.1 94.9,140.1 97.4,140.8 99.8,143.1 102.3,148.4 104.7,150.0 107.2,148.5 109.6,154.0 112.1,151.9 114.5,153.3 117.0,144.4 119.4,138.9 121.9,138.1 124.3,142.8 126.7,146.1 129.2,152.6 131.6,155.5 134.1,151.7 136.5,147.9 139.0,149.5 141.4,152.9 143.9,147.5 146.3,148.0 148.8,149.4 151.2,144.3 153.7,139.5 156.1,142.4 158.6,146.1 161.0,152.0 163.5,150.2 165.9,145.5 168.3,143.9 170.8,141.4 173.2,141.1 175.7,142.5 178.1,146.5 180.6,140.3 183.0,136.1 185.5,139.4 187.9,139.1 190.4,144.7 192.8,138.1 195.3,142.6 197.7,143.9 200.2,150.8 202.6,148.3 205.0,146.1 207.5,145.7 209.9,138.1 212.4,137.1 214.8,141.1 217.3,146.6 219.7,151.7 222.2,148.8 224.6,150.4 227.1,150.7 229.5,151.4 232.0,152.5 234.4,151.9 236.9,135.5 239.3,142.4 241.8,137.1 244.2,132.0 246.6,136.1 249.1,140.1 251.5,142.0 254.0,148.3 256.4,151.5 258.9,153.8 261.3,147.8 263.8,146.2 266.2,145.9 268.7,139.1 271.1,138.1 273.6,139.1 276.0,140.1 278.5,150.2 280.9,155.5 283.4,154.2 285.8,145.4 288.2,147.4 290.7,149.5 293.1,143.3 295.6,137.5 298.0,138.4 300.5,142.4 302.9,144.3 305.4,148.2 307.8,146.1 310.3,152.1 312.7,157.6 315.2,156.5 317.6,151.8 320.1,144.3 322.5,144.3 325.0,141.3 327.4,138.7 329.8,137.3 332.3,132.5 334.7,137.7 337.2,147.9 339.6,151.7 342.1,157.0 344.5,151.4 347.0,148.3 349.4,147.9 351.9,145.2 354.3,140.1 356.8,141.1 359.2,139.4 361.7,132.1 364.1,128.4 366.6,134.1 369.0,141.3 371.4,142.5 373.9,148.4 376.3,150.2 378.8,149.6 381.2,147.2 383.7,147.1 386.1,140.9 388.6,135.6 391.0,139.8 393.5,140.3 395.9,151.2 398.4,142.7 400.8,141.7 403.3,142.4 405.7,146.2 408.2,143.9 410.6,144.7 413.0,136.5 415.5,145.1 417.9,142.1 420.4,143.1 422.8,139.1 425.3,147.0 427.7,149.8 430.2,153.1 432.6,153.5 435.1,153.0 437.5,147.9 440.0,147.3 442.4,147.3 444.9,133.9 447.3,138.1 449.7,137.1 452.2,137.6 454.6,136.1 457.1,141.2 459.5,142.4 462.0,148.5 464.4,149.3 466.9,148.8 469.3,145.9 471.8,133.9 474.2,139.1 476.7,139.1 479.1,133.1 481.6,134.5 484.0,141.3 486.5,144.7 488.9,149.5 491.3,150.8 493.8,156.3 496.2,153.9 498.7,154.3 501.1,149.8 503.6,148.3 506.0,142.6 508.5,151.5 510.9,149.3 513.4,135.1 515.8,141.2 518.3,137.1 520.7,136.7 523.2,135.8 525.6,139.1 528.1,139.1 530.5,142.6" stroke="#e4b870" stroke-width="0.9" stroke-dasharray="3 1.2 1 1.2"/>
<g fill="#e4b870" stroke="none"><circle cx="43.5" cy="140.9" r="1.65"/><circle cx="46.0" cy="146.2" r="1.65"/><circle cx="48.4" cy="143.3" r="1.65"/><circle cx="50.9" cy="157.2" r="1.65"/><circle cx="53.3" cy="154.1" r="1.65"/><circle cx="55.8" cy="153.9" r="1.65"/><circle cx="58.2" cy="153.1" r="1.65"/><circle cx="60.7" cy="153.1" r="1.65"/><circle cx="63.1" cy="142.1" r="1.65"/><circle cx="65.6" cy="144.7" r="1.65"/><circle cx="68.0" cy="139.5" r="1.65"/><circle cx="70.5" cy="141.1" r="1.65"/><circle cx="72.9" cy="137.5" r="1.65"/><circle cx="75.4" cy="142.3" r="1.65"/><circle cx="77.8" cy="149.5" r="1.65"/><circle cx="80.3" cy="153.3" r="1.65"/><circle cx="82.7" cy="151.9" r="1.65"/><circle cx="85.1" cy="154.2" r="1.65"/><circle cx="87.6" cy="146.3" r="1.65"/><circle cx="90.0" cy="142.7" r="1.65"/><circle cx="92.5" cy="138.1" r="1.65"/><circle cx="94.9" cy="140.1" r="1.65"/><circle cx="97.4" cy="140.8" r="1.65"/><circle cx="99.8" cy="143.1" r="1.65"/><circle cx="102.3" cy="148.4" r="1.65"/><circle cx="104.7" cy="150.0" r="1.65"/><circle cx="107.2" cy="148.5" r="1.65"/><circle cx="109.6" cy="154.0" r="1.65"/><circle cx="112.1" cy="151.9" r="1.65"/><circle cx="114.5" cy="153.3" r="1.65"/><circle cx="117.0" cy="144.4" r="1.65"/><circle cx="119.4" cy="138.9" r="1.65"/><circle cx="121.9" cy="138.1" r="1.65"/><circle cx="124.3" cy="142.8" r="1.65"/><circle cx="126.7" cy="146.1" r="1.65"/><circle cx="129.2" cy="152.6" r="1.65"/><circle cx="131.6" cy="155.5" r="1.65"/><circle cx="134.1" cy="151.7" r="1.65"/><circle cx="136.5" cy="147.9" r="1.65"/><circle cx="139.0" cy="149.5" r="1.65"/><circle cx="141.4" cy="152.9" r="1.65"/><circle cx="143.9" cy="147.5" r="1.65"/><circle cx="146.3" cy="148.0" r="1.65"/><circle cx="148.8" cy="149.4" r="1.65"/><circle cx="151.2" cy="144.3" r="1.65"/><circle cx="153.7" cy="139.5" r="1.65"/><circle cx="156.1" cy="142.4" r="1.65"/><circle cx="158.6" cy="146.1" r="1.65"/><circle cx="161.0" cy="152.0" r="1.65"/><circle cx="163.5" cy="150.2" r="1.65"/><circle cx="165.9" cy="145.5" r="1.65"/><circle cx="168.3" cy="143.9" r="1.65"/><circle cx="170.8" cy="141.4" r="1.65"/><circle cx="173.2" cy="141.1" r="1.65"/><circle cx="175.7" cy="142.5" r="1.65"/><circle cx="178.1" cy="146.5" r="1.65"/><circle cx="180.6" cy="140.3" r="1.65"/><circle cx="183.0" cy="136.1" r="1.65"/><circle cx="185.5" cy="139.4" r="1.65"/><circle cx="187.9" cy="139.1" r="1.65"/><circle cx="190.4" cy="144.7" r="1.65"/><circle cx="192.8" cy="138.1" r="1.65"/><circle cx="195.3" cy="142.6" r="1.65"/><circle cx="197.7" cy="143.9" r="1.65"/><circle cx="200.2" cy="150.8" r="1.65"/><circle cx="202.6" cy="148.3" r="1.65"/><circle cx="205.0" cy="146.1" r="1.65"/><circle cx="207.5" cy="145.7" r="1.65"/><circle cx="209.9" cy="138.1" r="1.65"/><circle cx="212.4" cy="137.1" r="1.65"/><circle cx="214.8" cy="141.1" r="1.65"/><circle cx="217.3" cy="146.6" r="1.65"/><circle cx="219.7" cy="151.7" r="1.65"/><circle cx="222.2" cy="148.8" r="1.65"/><circle cx="224.6" cy="150.4" r="1.65"/><circle cx="227.1" cy="150.7" r="1.65"/><circle cx="229.5" cy="151.4" r="1.65"/><circle cx="232.0" cy="152.5" r="1.65"/><circle cx="234.4" cy="151.9" r="1.65"/><circle cx="236.9" cy="135.5" r="1.65"/><circle cx="239.3" cy="142.4" r="1.65"/><circle cx="241.8" cy="137.1" r="1.65"/><circle cx="244.2" cy="132.0" r="1.65"/><circle cx="246.6" cy="136.1" r="1.65"/><circle cx="249.1" cy="140.1" r="1.65"/><circle cx="251.5" cy="142.0" r="1.65"/><circle cx="254.0" cy="148.3" r="1.65"/><circle cx="256.4" cy="151.5" r="1.65"/><circle cx="258.9" cy="153.8" r="1.65"/><circle cx="261.3" cy="147.8" r="1.65"/><circle cx="263.8" cy="146.2" r="1.65"/><circle cx="266.2" cy="145.9" r="1.65"/><circle cx="268.7" cy="139.1" r="1.65"/><circle cx="271.1" cy="138.1" r="1.65"/><circle cx="273.6" cy="139.1" r="1.65"/><circle cx="276.0" cy="140.1" r="1.65"/><circle cx="278.5" cy="150.2" r="1.65"/><circle cx="280.9" cy="155.5" r="1.65"/><circle cx="283.4" cy="154.2" r="1.65"/><circle cx="285.8" cy="145.4" r="1.65"/><circle cx="288.2" cy="147.4" r="1.65"/><circle cx="290.7" cy="149.5" r="1.65"/><circle cx="293.1" cy="143.3" r="1.65"/><circle cx="295.6" cy="137.5" r="1.65"/><circle cx="298.0" cy="138.4" r="1.65"/><circle cx="300.5" cy="142.4" r="1.65"/><circle cx="302.9" cy="144.3" r="1.65"/><circle cx="305.4" cy="148.2" r="1.65"/><circle cx="307.8" cy="146.1" r="1.65"/><circle cx="310.3" cy="152.1" r="1.65"/><circle cx="312.7" cy="157.6" r="1.65"/><circle cx="315.2" cy="156.5" r="1.65"/><circle cx="317.6" cy="151.8" r="1.65"/><circle cx="320.1" cy="144.3" r="1.65"/><circle cx="322.5" cy="144.3" r="1.65"/><circle cx="325.0" cy="141.3" r="1.65"/><circle cx="327.4" cy="138.7" r="1.65"/><circle cx="329.8" cy="137.3" r="1.65"/><circle cx="332.3" cy="132.5" r="1.65"/><circle cx="334.7" cy="137.7" r="1.65"/><circle cx="337.2" cy="147.9" r="1.65"/><circle cx="339.6" cy="151.7" r="1.65"/><circle cx="342.1" cy="157.0" r="1.65"/><circle cx="344.5" cy="151.4" r="1.65"/><circle cx="347.0" cy="148.3" r="1.65"/><circle cx="349.4" cy="147.9" r="1.65"/><circle cx="351.9" cy="145.2" r="1.65"/><circle cx="354.3" cy="140.1" r="1.65"/><circle cx="356.8" cy="141.1" r="1.65"/><circle cx="359.2" cy="139.4" r="1.65"/><circle cx="361.7" cy="132.1" r="1.65"/><circle cx="364.1" cy="128.4" r="1.65"/><circle cx="366.6" cy="134.1" r="1.65"/><circle cx="369.0" cy="141.3" r="1.65"/><circle cx="371.4" cy="142.5" r="1.65"/><circle cx="373.9" cy="148.4" r="1.65"/><circle cx="376.3" cy="150.2" r="1.65"/><circle cx="378.8" cy="149.6" r="1.65"/><circle cx="381.2" cy="147.2" r="1.65"/><circle cx="383.7" cy="147.1" r="1.65"/><circle cx="386.1" cy="140.9" r="1.65"/><circle cx="388.6" cy="135.6" r="1.65"/><circle cx="391.0" cy="139.8" r="1.65"/><circle cx="393.5" cy="140.3" r="1.65"/><circle cx="395.9" cy="151.2" r="1.65"/><circle cx="398.4" cy="142.7" r="1.65"/><circle cx="400.8" cy="141.7" r="1.65"/><circle cx="403.3" cy="142.4" r="1.65"/><circle cx="405.7" cy="146.2" r="1.65"/><circle cx="408.2" cy="143.9" r="1.65"/><circle cx="410.6" cy="144.7" r="1.65"/><circle cx="413.0" cy="136.5" r="1.65"/><circle cx="415.5" cy="145.1" r="1.65"/><circle cx="417.9" cy="142.1" r="1.65"/><circle cx="420.4" cy="143.1" r="1.65"/><circle cx="422.8" cy="139.1" r="1.65"/><circle cx="425.3" cy="147.0" r="1.65"/><circle cx="427.7" cy="149.8" r="1.65"/><circle cx="430.2" cy="153.1" r="1.65"/><circle cx="432.6" cy="153.5" r="1.65"/><circle cx="435.1" cy="153.0" r="1.65"/><circle cx="437.5" cy="147.9" r="1.65"/><circle cx="440.0" cy="147.3" r="1.65"/><circle cx="442.4" cy="147.3" r="1.65"/><circle cx="444.9" cy="133.9" r="1.65"/><circle cx="447.3" cy="138.1" r="1.65"/><circle cx="449.7" cy="137.1" r="1.65"/><circle cx="452.2" cy="137.6" r="1.65"/><circle cx="454.6" cy="136.1" r="1.65"/><circle cx="457.1" cy="141.2" r="1.65"/><circle cx="459.5" cy="142.4" r="1.65"/><circle cx="462.0" cy="148.5" r="1.65"/><circle cx="464.4" cy="149.3" r="1.65"/><circle cx="466.9" cy="148.8" r="1.65"/><circle cx="469.3" cy="145.9" r="1.65"/><circle cx="471.8" cy="133.9" r="1.65"/><circle cx="474.2" cy="139.1" r="1.65"/><circle cx="476.7" cy="139.1" r="1.65"/><circle cx="479.1" cy="133.1" r="1.65"/><circle cx="481.6" cy="134.5" r="1.65"/><circle cx="484.0" cy="141.3" r="1.65"/><circle cx="486.5" cy="144.7" r="1.65"/><circle cx="488.9" cy="149.5" r="1.65"/><circle cx="491.3" cy="150.8" r="1.65"/><circle cx="493.8" cy="156.3" r="1.65"/><circle cx="496.2" cy="153.9" r="1.65"/><circle cx="498.7" cy="154.3" r="1.65"/><circle cx="501.1" cy="149.8" r="1.65"/><circle cx="503.6" cy="148.3" r="1.65"/><circle cx="506.0" cy="142.6" r="1.65"/><circle cx="508.5" cy="151.5" r="1.65"/><circle cx="510.9" cy="149.3" r="1.65"/><circle cx="513.4" cy="135.1" r="1.65"/><circle cx="515.8" cy="141.2" r="1.65"/><circle cx="518.3" cy="137.1" r="1.65"/><circle cx="520.7" cy="136.7" r="1.65"/><circle cx="523.2" cy="135.8" r="1.65"/><circle cx="525.6" cy="139.1" r="1.65"/><circle cx="528.1" cy="139.1" r="1.65"/><circle cx="530.5" cy="142.6" r="1.65"/></g>
</g>
<g stroke="#555" stroke-width="0.9" fill="none">
<rect x="41.5" y="12.7" width="489.0" height="200.70000000000002"/>
<line x1="65.6" y1="213.4" x2="65.6" y2="208.4"/>
<line x1="65.6" y1="12.7" x2="65.6" y2="17.7"/>
<line x1="90.0" y1="213.4" x2="90.0" y2="208.4"/>
<line x1="90.0" y1="12.7" x2="90.0" y2="17.7"/>
<line x1="114.5" y1="213.4" x2="114.5" y2="208.4"/>
<line x1="114.5" y1="12.7" x2="114.5" y2="17.7"/>
<line x1="139.0" y1="213.4" x2="139.0" y2="208.4"/>
<line x1="139.0" y1="12.7" x2="139.0" y2="17.7"/>
<line x1="163.5" y1="213.4" x2="163.5" y2="208.4"/>
<line x1="163.5" y1="12.7" x2="163.5" y2="17.7"/>
<line x1="187.9" y1="213.4" x2="187.9" y2="208.4"/>
<line x1="187.9" y1="12.7" x2="187.9" y2="17.7"/>
<line x1="212.4" y1="213.4" x2="212.4" y2="208.4"/>
<line x1="212.4" y1="12.7" x2="212.4" y2="17.7"/>
<line x1="236.9" y1="213.4" x2="236.9" y2="208.4"/>
<line x1="236.9" y1="12.7" x2="236.9" y2="17.7"/>
<line x1="261.3" y1="213.4" x2="261.3" y2="208.4"/>
<line x1="261.3" y1="12.7" x2="261.3" y2="17.7"/>
<line x1="285.8" y1="213.4" x2="285.8" y2="208.4"/>
<line x1="285.8" y1="12.7" x2="285.8" y2="17.7"/>
<line x1="310.3" y1="213.4" x2="310.3" y2="208.4"/>
<line x1="310.3" y1="12.7" x2="310.3" y2="17.7"/>
<line x1="334.7" y1="213.4" x2="334.7" y2="208.4"/>
<line x1="334.7" y1="12.7" x2="334.7" y2="17.7"/>
<line x1="359.2" y1="213.4" x2="359.2" y2="208.4"/>
<line x1="359.2" y1="12.7" x2="359.2" y2="17.7"/>
<line x1="383.7" y1="213.4" x2="383.7" y2="208.4"/>
<line x1="383.7" y1="12.7" x2="383.7" y2="17.7"/>
<line x1="408.2" y1="213.4" x2="408.2" y2="208.4"/>
<line x1="408.2" y1="12.7" x2="408.2" y2="17.7"/>
<line x1="432.6" y1="213.4" x2="432.6" y2="208.4"/>
<line x1="432.6" y1="12.7" x2="432.6" y2="17.7"/>
<line x1="457.1" y1="213.4" x2="457.1" y2="208.4"/>
<line x1="457.1" y1="12.7" x2="457.1" y2="17.7"/>
<line x1="481.6" y1="213.4" x2="481.6" y2="208.4"/>
<line x1="481.6" y1="12.7" x2="481.6" y2="17.7"/>
<line x1="506.0" y1="213.4" x2="506.0" y2="208.4"/>
<line x1="506.0" y1="12.7" x2="506.0" y2="17.7"/>
<line x1="41.5" y1="193.3" x2="46.5" y2="193.3"/>
<line x1="530.5" y1="193.3" x2="525.5" y2="193.3"/>
<line x1="41.5" y1="173.3" x2="46.5" y2="173.3"/>
<line x1="530.5" y1="173.3" x2="525.5" y2="173.3"/>
<line x1="41.5" y1="153.2" x2="46.5" y2="153.2"/>
<line x1="530.5" y1="153.2" x2="525.5" y2="153.2"/>
<line x1="41.5" y1="133.1" x2="46.5" y2="133.1"/>
<line x1="530.5" y1="133.1" x2="525.5" y2="133.1"/>
<line x1="41.5" y1="113.1" x2="46.5" y2="113.1"/>
<line x1="530.5" y1="113.1" x2="525.5" y2="113.1"/>
<line x1="41.5" y1="93.0" x2="46.5" y2="93.0"/>
<line x1="530.5" y1="93.0" x2="525.5" y2="93.0"/>
<line x1="41.5" y1="72.9" x2="46.5" y2="72.9"/>
<line x1="530.5" y1="72.9" x2="525.5" y2="72.9"/>
<line x1="41.5" y1="52.8" x2="46.5" y2="52.8"/>
<line x1="530.5" y1="52.8" x2="525.5" y2="52.8"/>
<line x1="41.5" y1="32.8" x2="46.5" y2="32.8"/>
<line x1="530.5" y1="32.8" x2="525.5" y2="32.8"/>
</g>
<g font-family="'Liberation Sans', Arial, sans-serif" font-size="6.6" fill="#333" stroke="#333" stroke-width="0.12">
<text transform="translate(41.6,221.5) scale(0.88,1)" text-anchor="middle">1</text>
<text transform="translate(65.6,221.5) scale(0.88,1)" text-anchor="middle">10</text>
<text transform="translate(90.0,221.5) scale(0.88,1)" text-anchor="middle">20</text>
<text transform="translate(114.5,221.5) scale(0.88,1)" text-anchor="middle">30</text>
<text transform="translate(139.0,221.5) scale(0.88,1)" text-anchor="middle">40</text>
<text transform="translate(163.5,221.5) scale(0.88,1)" text-anchor="middle">50</text>
<text transform="translate(187.9,221.5) scale(0.88,1)" text-anchor="middle">60</text>
<text transform="translate(212.4,221.5) scale(0.88,1)" text-anchor="middle">70</text>
<text transform="translate(236.9,221.5) scale(0.88,1)" text-anchor="middle">80</text>
<text transform="translate(261.3,221.5) scale(0.88,1)" text-anchor="middle">90</text>
<text transform="translate(285.8,221.5) scale(0.88,1)" text-anchor="middle">100</text>
<text transform="translate(310.3,221.5) scale(0.88,1)" text-anchor="middle">110</text>
<text transform="translate(334.7,221.5) scale(0.88,1)" text-anchor="middle">120</text>
<text transform="translate(359.2,221.5) scale(0.88,1)" text-anchor="middle">130</text>
<text transform="translate(383.7,221.5) scale(0.88,1)" text-anchor="middle">140</text>
<text transform="translate(408.2,221.5) scale(0.88,1)" text-anchor="middle">150</text>
<text transform="translate(432.6,221.5) scale(0.88,1)" text-anchor="middle">160</text>
<text transform="translate(457.1,221.5) scale(0.88,1)" text-anchor="middle">170</text>
<text transform="translate(481.6,221.5) scale(0.88,1)" text-anchor="middle">180</text>
<text transform="translate(506.0,221.5) scale(0.88,1)" text-anchor="middle">190</text>
<text transform="translate(530.5,221.5) scale(0.88,1)" text-anchor="middle">200</text>
<text transform="translate(39,215.8) scale(0.88,1)" text-anchor="end">0</text>
<text transform="translate(39,195.7) scale(0.88,1)" text-anchor="end">0.1</text>
<text transform="translate(39,175.7) scale(0.88,1)" text-anchor="end">0.2</text>
<text transform="translate(39,155.6) scale(0.88,1)" text-anchor="end">0.3</text>
<text transform="translate(39,135.5) scale(0.88,1)" text-anchor="end">0.4</text>
<text transform="translate(39,115.5) scale(0.88,1)" text-anchor="end">0.5</text>
<text transform="translate(39,95.4) scale(0.88,1)" text-anchor="end">0.6</text>
<text transform="translate(39,75.3) scale(0.88,1)" text-anchor="end">0.7</text>
<text transform="translate(39,55.2) scale(0.88,1)" text-anchor="end">0.8</text>
<text transform="translate(39,35.2) scale(0.88,1)" text-anchor="end">0.9</text>
<text transform="translate(39,15.1) scale(0.88,1)" text-anchor="end">1</text>
</g>
<rect x="51.7" y="17.2" width="42.2" height="35.4" fill="#fff" stroke="#4a4a4a" stroke-width="0.9"/>
<line x1="55" y1="22.3" x2="72.9" y2="22.3" stroke="#ff0000" stroke-width="1.4"/>
<circle cx="64.1" cy="22.3" r="1.8" fill="#ff0000"/>
<text transform="translate(76,24.6) scale(0.86,1)" font-family="'Liberation Sans', Arial, sans-serif" font-size="6.5" fill="#3a3a3a" stroke="#3a3a3a" stroke-width="0.12">True</text>
<line x1="55" y1="30.7" x2="72.9" y2="30.7" stroke="#0000ff" stroke-width="1.4" stroke-dasharray="3.2 1.8"/>
<circle cx="64.1" cy="30.7" r="1.8" fill="#0000ff"/>
<text transform="translate(76,33.0) scale(0.86,1)" font-family="'Liberation Sans', Arial, sans-serif" font-size="6.5" fill="#3a3a3a" stroke="#3a3a3a" stroke-width="0.12">BP</text>
<line x1="55" y1="39.2" x2="72.9" y2="39.2" stroke="#1fc2b4" stroke-width="1.4" stroke-dasharray="1.4 1.2"/>
<circle cx="64.1" cy="39.2" r="1.8" fill="#1fc2b4"/>
<text transform="translate(76,41.5) scale(0.86,1)" font-family="'Liberation Sans', Arial, sans-serif" font-size="6.5" fill="#3a3a3a" stroke="#3a3a3a" stroke-width="0.12">GRU</text>
<line x1="55" y1="47.6" x2="72.9" y2="47.6" stroke="#e4b870" stroke-width="0.9" stroke-dasharray="3 1.2 1 1.2"/>
<circle cx="64.1" cy="47.6" r="1.8" fill="#e4b870"/>
<text transform="translate(76,49.9) scale(0.86,1)" font-family="'Liberation Sans', Arial, sans-serif" font-size="6.5" fill="#3a3a3a" stroke="#3a3a3a" stroke-width="0.12">ESN_</text>
<text x="289.5" y="238.6" text-anchor="middle" font-family="'Liberation Serif', 'Times New Roman', serif" font-size="11.5" fill="#1a1a1a" stroke="#1a1a1a" stroke-width="0.15">Partial periods</text>
<text transform="translate(17.6,113.2) rotate(-90)" text-anchor="middle" font-family="'Liberation Serif', 'Times New Roman', serif" font-size="11.1" fill="#1a1a1a" stroke="#1a1a1a" stroke-width="0.15">Dissolved oxygen content(mg/L)</text>
</svg>
</body></html>
